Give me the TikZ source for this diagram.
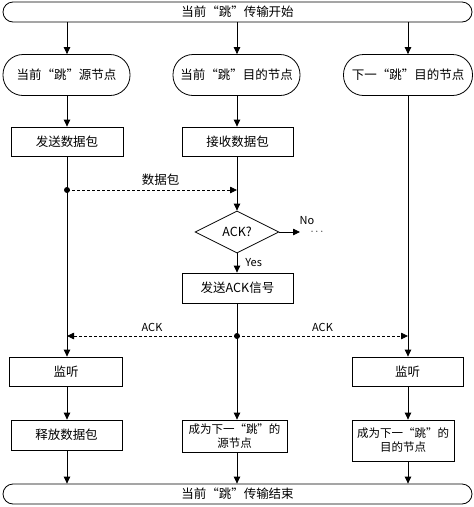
\documentclass[tikz,border=0pt]{standalone}
\usepackage{fontspec}
\setmainfont{Noto Sans CJK SC}
\usetikzlibrary{shapes.geometric,arrows.meta}
\begin{document}
\begin{tikzpicture}[x=1pt,y=-1pt,
  every node/.style={font=\fontsize{12.5}{14.5}\selectfont, inner sep=0pt, align=center},
  bar/.style={draw, line width=0.8pt, minimum width=469pt, minimum height=20pt, rounded corners=10pt},
  pill/.style={draw, line width=0.8pt, minimum height=41pt, rounded corners=20pt},
  boxnode/.style={draw, line width=0.8pt, minimum height=29pt},
  small/.style={font=\fontsize{11.5}{14}\selectfont},
  dec/.style={draw, line width=0.8pt, diamond, aspect=2, minimum width=84pt, minimum height=42pt, inner sep=0pt},
  arr/.style={line width=0.8pt, -{Triangle[length=7pt,width=6.5pt]}},
  darr/.style={arr, dash pattern=on 3pt off 2pt},
  lbl/.style={font=\fontsize{11}{13}\selectfont}]
\useasboundingbox (0,0) rectangle (474,507);
\coordinate (cL) at (67,0);
\coordinate (cM) at (237,0);
\coordinate (cR) at (408,0);
\node[bar] (top) at (237.5,12) {当前“跳”传输开始};
\node[pill, minimum width=127pt] (r1) at (66.5,75) {当前“跳”源节点};
\node[pill, minimum width=127pt] (r2) at (236.5,75) {当前“跳”目的节点};
\node[pill, minimum width=129pt] (r3) at (408,75) {下一“跳”目的节点};
\node[boxnode, minimum width=112pt] (b1) at (67,141.5) {发送数据包};
\node[boxnode, minimum width=111pt] (b2) at (237.5,141.5) {接收数据包};
\node[dec] (d) at (237,232) {ACK?};
\node[boxnode, minimum width=111pt, minimum height=30pt] (b3) at (237.5,288) {发送ACK信号};
\node[boxnode, minimum width=113pt] (b4) at (66,371.5) {监听};
\node[boxnode, minimum width=111pt] (b5) at (407.5,371.5) {监听};
\node[boxnode, minimum width=111pt, minimum height=30pt] (b6) at (66.5,435) {释放数据包};
\node[boxnode, small, minimum width=105pt, minimum height=32pt] (b7) at (234.5,436) {成为下一“跳”的\\源节点};
\node[boxnode, small, minimum width=102pt, minimum height=41pt] (b8) at (403,440.5) {成为下一“跳”的\\目的节点};
\node[bar] (bot) at (237.5,494) {当前“跳”传输结束};
% top to pills
\draw[arr] (top.south -| cL) -- (r1.north -| cL);
\draw[arr] (top.south -| cM) -- (r2.north -| cM);
\draw[arr] (top.south -| cR) -- (r3.north -| cR);
\draw[arr] (r1.south -| cL) -- (b1.north -| cL);
\draw[arr] (r2.south -| cM) -- (b2.north -| cM);
\draw[arr] (r3.south -| cR) -- (b5.north -| cR);
\draw[arr] (b1.south -| cL) -- (b4.north -| cL);
\draw[arr] (b2.south -| cM) -- (d.north);
\draw[arr] (d.south) -- node[lbl, right=8pt, pos=0.45] {Yes} (b3.north -| cM);
\draw[arr] (b3.south -| cM) -- (b7.north -| cM);
\draw[arr] (b4.south -| cL) -- (b6.north -| cL);
\draw[arr] (b5.south -| cR) -- (b8.north -| cR);
\draw[arr] (b6.south -| cL) -- (bot.north -| cL);
\draw[arr] (b7.south -| cM) -- (bot.north -| cM);
\draw[arr] (b8.south -| cR) -- (bot.north -| cR);
% no branch
\coordinate (nE) at (300,232);
\draw[arr] (d.east) -- (nE);
\node[lbl] (no) at (307,221) {No};
\node[lbl] (dots) at (317,232) {$\cdots$};
% data packet
\coordinate (p1) at (67,190);
\coordinate (p2) at (237,190);
\fill (p1) circle (3pt);
\draw[darr] (p1) -- node[above=4pt, pos=0.55] {数据包} (p2);
% ACK
\coordinate (p3) at (237,336);
\coordinate (q1) at (67,336);
\coordinate (q2) at (408,336);
\fill (p3) circle (3pt);
\draw[darr] (p3) -- node[lbl, above=4pt] {ACK} (q1);
\draw[darr] (p3) -- node[lbl, above=4pt] {ACK} (q2);
\end{tikzpicture}
\end{document}
